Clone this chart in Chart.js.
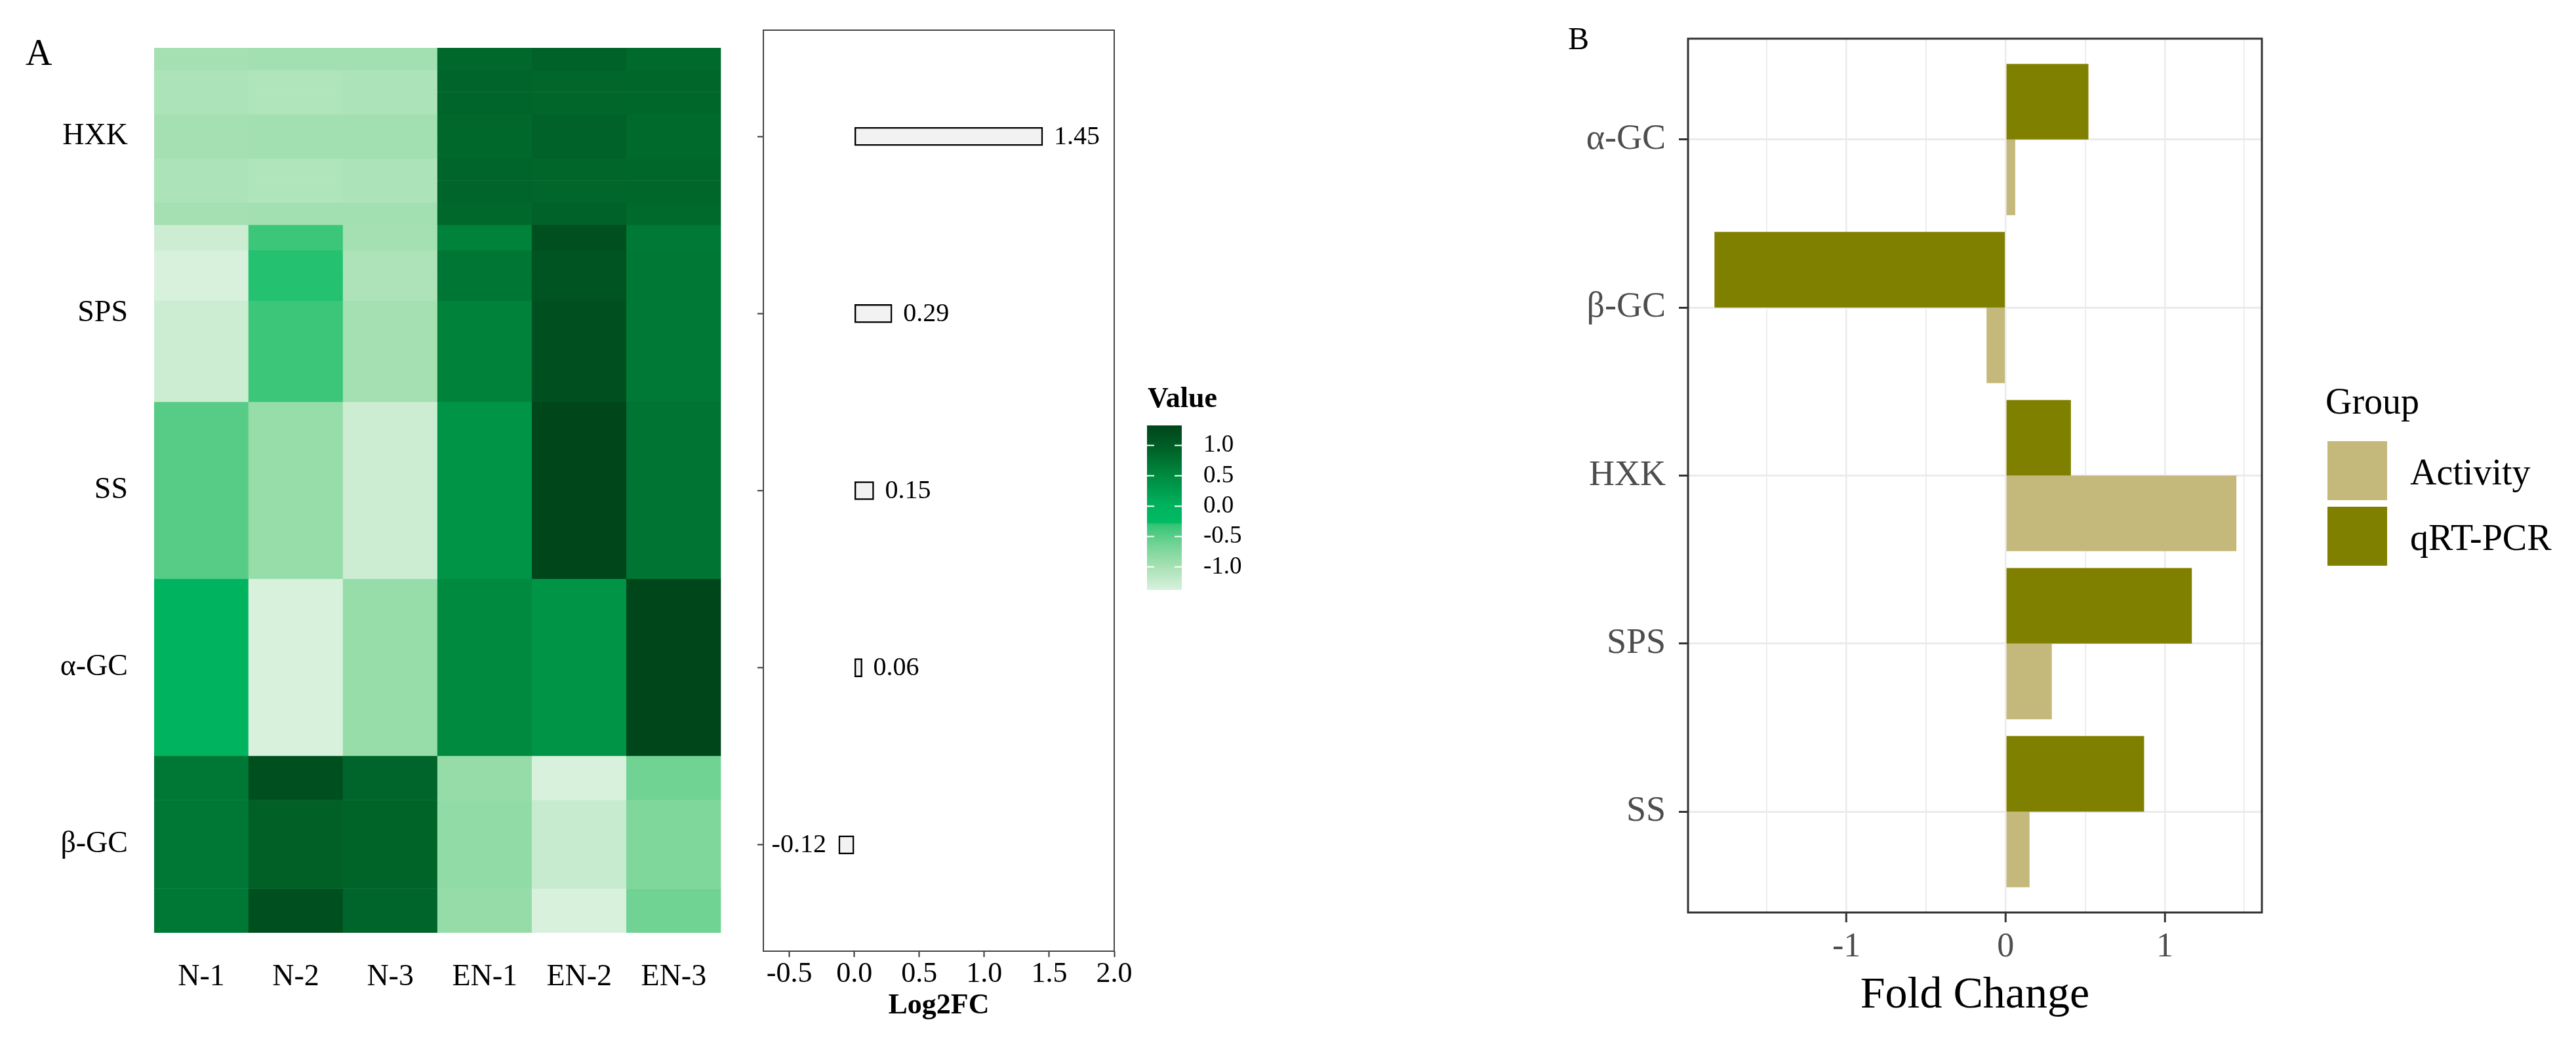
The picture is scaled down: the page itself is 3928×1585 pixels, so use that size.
<!DOCTYPE html>
<html>
<head>
<meta charset="utf-8">
<script src="https://cdn.jsdelivr.net/npm/chart.js@4/dist/chart.umd.min.js"></script>
<style>
  html, body { margin: 0; padding: 0; background: #fff; }
  body { width: 3928px; height: 1585px; position: relative; overflow: hidden;
         font-family: 'Liberation Serif', 'Times New Roman', serif; }
  canvas { position: absolute; }
  .txt { position: absolute; white-space: nowrap; color: #000; }
  .key { position: absolute; width: 91px; height: 90px; }
</style>
</head>
<body>
<canvas id="heat" width="1110" height="1585" style="left:0;top:0"></canvas>
<canvas id="fc" width="645" height="1585" style="left:1100px;top:0"></canvas>
<canvas id="cbar" width="200" height="351" style="left:1749px;top:599px"></canvas>
<canvas id="fold" width="1090" height="1585" style="left:2380px;top:0"></canvas>

<div class="txt" style="left:39px;top:50px;font-size:56px;line-height:60px">A</div>
<div class="txt" style="left:1750px;top:583px;font-size:44px;line-height:48px;font-weight:bold">Value</div>
<div class="txt" style="left:2391px;top:33px;font-size:48px;line-height:52px">B</div>
<div class="txt" style="left:3546px;top:582px;font-size:56px;line-height:60px">Group</div>
<div class="key" style="left:3549px;top:673px;background:#c5b87b"></div>
<div class="key" style="left:3549px;top:773px;background:#808000"></div>
<div class="txt" style="left:3675px;top:690px;font-size:56px;line-height:60px">Activity</div>
<div class="txt" style="left:3675px;top:790px;font-size:56px;line-height:60px">qRT-PCR</div>

<script>
// ---- data ----
const genes = ['HXK', 'SPS', 'SS', 'α-GC', 'β-GC'];
const samples = ['N-1', 'N-2', 'N-3', 'EN-1', 'EN-2', 'EN-3'];

// heatmap rows (each gene split in equal sub-rows, top to bottom)
const hxkA = [-0.97, -0.96, -0.96, 0.87, 0.93, 0.85];
const hxkB = [-1.04, -1.06, -1.04, 0.90, 0.89, 0.88];
const hxkRows = [hxkA, hxkB, hxkB, hxkA, hxkA, hxkB, hxkB, hxkA];

const spsA = [-1.29, -0.34, -0.97, 0.59, 1.18, 0.68];
const spsB = [-1.37, -0.29, -1.05, 0.72, 1.12, 0.70];
const spsRows = [spsA, spsB, spsB, spsA, spsA, spsA, spsA];

const ssRows = [[-0.48, -0.88, -1.29, 0.38, 1.33, 0.73]];
const agcRows = [[-0.05, -1.38, -0.88, 0.50, 0.38, 1.33]];

const bgcA = [0.70, 1.18, 0.90, -0.87, -1.37, -0.62];
const bgcB = [0.70, 0.96, 0.91, -0.84, -1.24, -0.72];
const bgcRows = [bgcA, bgcB, bgcB, bgcA];

const log2fc = [1.45, 0.29, 0.15, 0.06, -0.12];
const fcTicks = [-0.5, 0, 0.5, 1, 1.5, 2];
const valueTicks = [-1, -0.5, 0, 0.5, 1];

const foldGenes = ['α-GC', 'β-GC', 'HXK', 'SPS', 'SS'];
const activity = [0.06, -0.12, 1.45, 0.29, 0.15];
const qpcr = [0.52, -1.83, 0.41, 1.17, 0.87];
const foldTicks = [-1.5, -1, -0.5, 0, 0.5, 1, 1.5];

// ---- colour scale ----
const cmapValues = [-1.38, -1.0, -0.6, -0.3, -0.27, 0.0, 0.5, 1.0, 1.33];
const cmapColors = ['#d8f1dd', '#a8e1b4', '#6dd292', '#34c476', '#00bb63',
                    '#00b35e', '#008a40', '#005c24', '#00461b'];

function hexRgb(h) {
  return [1, 3, 5].map(i => parseInt(h.slice(i, i + 2), 16));
}

function valueColor(v) {
  const n = cmapValues.length;
  if (v <= cmapValues[0]) return cmapColors[0];
  if (v >= cmapValues[n - 1]) return cmapColors[n - 1];
  let i = 0;
  while (v > cmapValues[i + 1]) i++;
  const t = (v - cmapValues[i]) / (cmapValues[i + 1] - cmapValues[i]);
  const a = hexRgb(cmapColors[i]), b = hexRgb(cmapColors[i + 1]);
  const c = a.map((x, k) => Math.round(x + (b[k] - x) * t));
  return 'rgb(' + c.join(',') + ')';
}

Chart.defaults.font.family = "'Liberation Serif', 'Times New Roman', serif";
Chart.defaults.color = '#000';
Chart.defaults.animation = false;
Chart.defaults.responsive = false;
Chart.defaults.devicePixelRatio = 1;
Chart.defaults.plugins.legend.display = false;
Chart.defaults.plugins.tooltip.enabled = false;

// panel border drawn on top of the bars
const frame = {
  id: 'frame',
  afterDatasetsDraw(chart, args, opts) {
    const { ctx, chartArea: a } = chart;
    ctx.save();
    ctx.strokeStyle = opts.color || '#333';
    ctx.lineWidth = opts.width || 2;
    ctx.strokeRect(a.left, a.top, a.right - a.left, a.bottom - a.top);
    ctx.restore();
  }
};

// ---- A: heatmap ----
const geneRows = [hxkRows, spsRows, ssRows, agcRows, bgcRows];
const heatSets = [];
geneRows.forEach((rows, g) => {
  rows.forEach((row, r) => {
    heatSets.push({
      data: row.map(() => [g + r / rows.length, g + (r + 1) / rows.length]),
      backgroundColor: row.map(valueColor),
      borderWidth: 0,
      grouped: false,
      barPercentage: 1,
      categoryPercentage: 1
    });
  });
});

new Chart(document.getElementById('heat'), {
  type: 'bar',
  data: { labels: samples, datasets: heatSets },
  options: {
    layout: { padding: { top: 73, right: 10, left: 0, bottom: 0 } },
    scales: {
      x: {
        grid: { display: false },
        border: { display: false },
        ticks: { color: '#000', font: { size: 46 }, padding: 32, maxRotation: 0 },
        afterFit: s => { s.height = 162; }
      },
      y: {
        min: 0, max: 5, reverse: true,
        grid: { display: false },
        border: { display: false },
        afterBuildTicks: s => { s.ticks = genes.map((_, i) => ({ value: i + 0.5 })); },
        ticks: { color: '#000', font: { size: 46 }, padding: 32, autoSkip: false,
                 callback: (v, i) => genes[i] },
        afterFit: s => { s.width = 235; }
      }
    }
  }
});

// ---- A: log2FC bars ----
const barValues = {
  id: 'barValues',
  afterDatasetsDraw(chart) {
    const ctx = chart.ctx;
    ctx.save();
    ctx.font = "40px 'Liberation Serif', serif";
    ctx.fillStyle = '#000';
    ctx.textBaseline = 'middle';
    chart.getDatasetMeta(0).data.forEach((bar, i) => {
      const v = log2fc[i];
      ctx.textAlign = v >= 0 ? 'left' : 'right';
      ctx.fillText(v.toFixed(2), v >= 0 ? bar.x + 17 : bar.x - 19, bar.y + 1);
    });
    ctx.restore();
  }
};

new Chart(document.getElementById('fc'), {
  type: 'bar',
  data: {
    datasets: [{
      data: log2fc.map((v, i) => ({ x: v, y: i })),
      backgroundColor: '#f2f2f2',
      borderColor: '#000',
      borderWidth: 2.5,
      borderSkipped: false,
      barThickness: 28
    }]
  },
  options: {
    indexAxis: 'y',
    layout: { padding: { top: 46, right: 46, left: 0, bottom: 0 } },
    plugins: { frame: { color: '#444', width: 2 } },
    scales: {
      x: {
        type: 'linear', min: -0.7, max: 2.0,
        afterBuildTicks: s => { s.ticks = fcTicks.map(v => ({ value: v })); },
        ticks: { color: '#000', font: { size: 44 }, padding: 0, maxRotation: 0,
                 callback: v => v.toFixed(1) },
        grid: { drawOnChartArea: false, tickLength: 9, tickWidth: 2, tickColor: '#333' },
        border: { display: false },
        title: { display: true, text: 'Log2FC', color: '#000',
                 font: { size: 44, weight: 'bold' }, padding: { top: 0, bottom: 24 } },
        afterFit: s => { s.height = 134; }
      },
      y: {
        type: 'linear', min: -0.6, max: 4.6, reverse: true, offset: false,
        afterBuildTicks: s => { s.ticks = genes.map((_, i) => ({ value: i })); },
        ticks: { display: false },
        grid: { offset: false, drawOnChartArea: false, tickLength: 9, tickWidth: 2, tickColor: '#333' },
        border: { display: false },
        afterFit: s => { s.width = 64; }
      }
    }
  },
  plugins: [frame, barValues]
});

// ---- A: colour bar ----
function gradientFill(c) {
  const chart = c.chart;
  if (!chart.chartArea) return null;
  const ys = chart.scales.y;
  const lo = cmapValues[0], hi = cmapValues[cmapValues.length - 1];
  const g = chart.ctx.createLinearGradient(0, ys.getPixelForValue(lo), 0, ys.getPixelForValue(hi));
  cmapValues.forEach((v, i) => g.addColorStop((v - lo) / (hi - lo), cmapColors[i]));
  return g;
}

const barTicks = {
  id: 'barTicks',
  afterDatasetsDraw(chart) {
    const { ctx, chartArea: a } = chart;
    const ys = chart.scales.y;
    ctx.save();
    ctx.strokeStyle = '#fff';
    ctx.lineWidth = 2;
    valueTicks.forEach(v => {
      const y = ys.getPixelForValue(v);
      ctx.beginPath();
      ctx.moveTo(a.left, y); ctx.lineTo(a.left + 11, y);
      ctx.moveTo(a.right - 11, y); ctx.lineTo(a.right, y);
      ctx.stroke();
    });
    ctx.restore();
  }
};

new Chart(document.getElementById('cbar'), {
  type: 'bar',
  data: {
    labels: ['Value'],
    datasets: [{
      data: [[cmapValues[0], cmapValues[cmapValues.length - 1]]],
      backgroundColor: gradientFill,
      borderWidth: 0,
      barPercentage: 1,
      categoryPercentage: 1
    }]
  },
  options: {
    layout: { padding: { top: 50, bottom: 50, left: 0, right: 0 } },
    scales: {
      x: { display: false },
      y: {
        position: 'right',
        min: cmapValues[0], max: cmapValues[cmapValues.length - 1],
        afterBuildTicks: s => { s.ticks = valueTicks.map(v => ({ value: v })); },
        ticks: { color: '#000', font: { size: 37 }, padding: 25, callback: v => v.toFixed(1) },
        grid: { display: false },
        border: { display: false },
        afterFit: s => { s.width = 147; }
      }
    }
  },
  plugins: [barTicks]
});

// ---- B: fold change ----
const isMajor = c => Number.isInteger(c.tick.value);

new Chart(document.getElementById('fold'), {
  type: 'bar',
  data: {
    datasets: [
      { label: 'qRT-PCR', data: qpcr.map((v, i) => ({ x: v, y: i })), backgroundColor: '#808000' },
      { label: 'Activity', data: activity.map((v, i) => ({ x: v, y: i })), backgroundColor: '#c5b87b' }
    ]
  },
  options: {
    indexAxis: 'y',
    datasets: { bar: { categoryPercentage: 0.9, barPercentage: 1, borderWidth: 0 } },
    layout: { padding: { top: 59, right: 21, left: 0, bottom: 0 } },
    plugins: { frame: { color: '#333', width: 3 } },
    scales: {
      x: {
        type: 'linear', min: -1.996, max: 1.61,
        afterBuildTicks: s => { s.ticks = foldTicks.map(v => ({ value: v })); },
        ticks: { color: '#4d4d4d', font: { size: 52 }, padding: 7, autoSkip: false, maxRotation: 0,
                 callback: v => Number.isInteger(v) ? String(v) : '' },
        grid: {
          color: '#ebebeb',
          lineWidth: c => isMajor(c) ? 2.5 : 1.8,
          tickLength: 15, tickWidth: 3,
          tickColor: c => isMajor(c) ? '#333' : 'rgba(0,0,0,0)'
        },
        border: { display: false },
        title: { display: true, text: 'Fold Change', color: '#000',
                 font: { size: 68 }, padding: { top: 0, bottom: 25 } },
        afterFit: s => { s.height = 193; }
      },
      y: {
        type: 'linear', min: -0.6, max: 4.6, reverse: true, offset: false,
        afterBuildTicks: s => { s.ticks = foldGenes.map((_, i) => ({ value: i })); },
        ticks: { color: '#4d4d4d', font: { size: 54 }, padding: 20, autoSkip: false,
                 callback: (v, i) => foldGenes[i] },
        grid: { offset: false, color: '#ebebeb', lineWidth: 3, tickLength: 14, tickWidth: 3, tickColor: '#333' },
        border: { display: false },
        afterFit: s => { s.width = 194; }
      }
    }
  },
  plugins: [frame]
});
</script>
</body>
</html>
